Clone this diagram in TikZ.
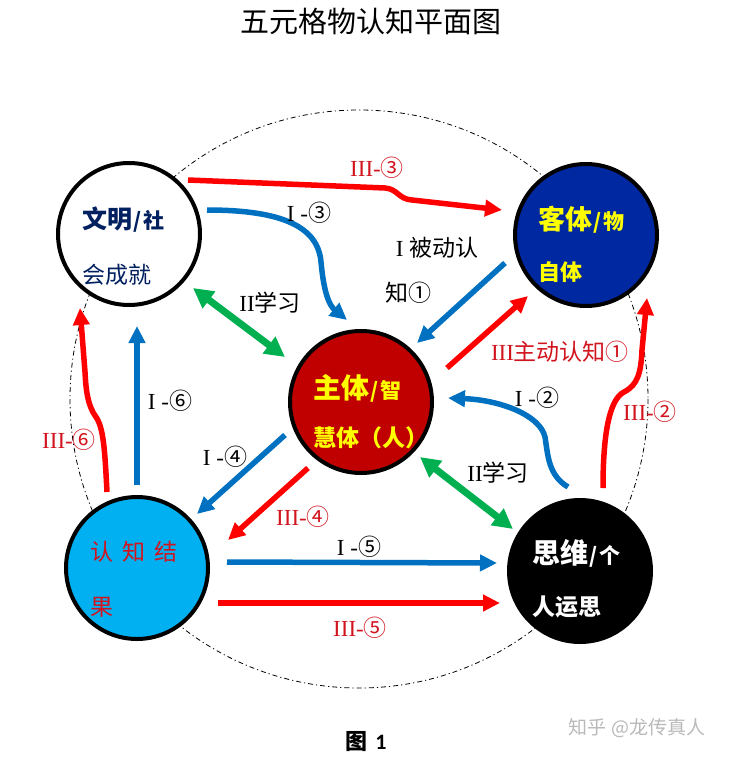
\documentclass[tikz,border=0pt]{standalone}
\usepackage{fontspec}
\setmainfont{Liberation Serif}
\newfontfamily\cjk{Noto Sans CJK SC}
\newfontfamily\carl{Carlito}
\usetikzlibrary{arrows.meta}
\definecolor{myred}{RGB}{255,0,0}
\definecolor{myblue}{RGB}{0,112,192}
\definecolor{mygreen}{RGB}{0,176,80}
\definecolor{navy}{RGB}{0,32,96}
\definecolor{kblue}{RGB}{0,40,160}
\definecolor{zred}{RGB}{192,0,0}
\definecolor{lblue}{RGB}{0,176,240}
\definecolor{yel}{RGB}{255,255,0}
\definecolor{txtred}{RGB}{210,20,30}
\definecolor{wmgray}{RGB}{185,185,185}
\newcommand\fsz[1]{\fontsize{#1pt}{#1pt}\selectfont}
\newcommand\cn[1]{{\cjk #1}}
\newcommand\slsep{\kern1.5pt/\kern1.5pt}
\begin{document}
\begin{tikzpicture}[x=1pt,y=-1pt,
  circ/.style={circle,draw=black,line width=4pt,minimum size=142pt,inner sep=0pt},
  ctext/.style={anchor=west,inner sep=0pt},
  arr/.style={line width=5.5pt,-{Triangle[length=17pt,width=16pt]}},
  rarr/.style={arr,draw=myred},
  barr/.style={arr,draw=myblue},
  garr/.style={line width=7pt,draw=mygreen,{Triangle[length=20pt,width=20pt]}-{Triangle[length=20pt,width=20pt]}},
  lbl/.style={inner sep=0pt,font=\fsz{23}},
  rlbl/.style={lbl,text=txtred},
  bound/.style={draw=black,line width=0.8pt,dash pattern=on 5pt off 3pt on 1.2pt off 3pt}
  ]
\useasboundingbox (0,0) rectangle (735,760);

% title
\node[inner sep=0pt,font=\cjk\fsz{29}] (title) at (371,21) {五元格物认知平面图};

% outer dash-dot circle
\draw[bound] (359,399) circle[radius=289];

% five circles
\node[circ,fill=white] (wm) at (129,234) {};
\node[circ,fill=kblue] (kt) at (586,235) {};
\node[circ,fill=zred] (zt) at (361,402) {};
\node[circ,fill=lblue] (res) at (137,568) {};
\node[circ,fill=black] (sw) at (580,571) {};

% circle texts
\node[ctext,text=navy] (wmA) at ([shift={(-47,-14)}]wm.center) {\cjk\bfseries\fsz{25}文明\fsz{21}\slsep 社};
\node[ctext,text=navy] (wmB) at ([shift={(-47,41)}]wm.center) {\cjk\fsz{23}会成就};
\node[ctext,text=yel] (ktA) at ([shift={(-48,-15)}]kt.center) {\cjk\bfseries\fsz{27}客体\fsz{21}\slsep 物};
\node[ctext,text=yel] (ktB) at ([shift={(-48,37)}]kt.center) {\cjk\bfseries\fsz{22}自体};
\node[ctext,text=yel] (ztA) at ([shift={(-48,-14)}]zt.center) {\cjk\bfseries\fsz{28}主体\fsz{21}\slsep 智};
\node[ctext,text=yel] (ztB) at ([shift={(-48,36)}]zt.center) {\cjk\bfseries\fsz{23}慧体（人）};
\node[ctext,text=txtred] (resA) at ([shift={(-47,-16)}]res.center) {\cjk\fsz{23}认\hspace{9pt}知\hspace{9pt}结};
\node[ctext,text=txtred] (resB) at ([shift={(-47,39)}]res.center) {\cjk\fsz{23}果};
\node[ctext,text=white] (swA) at ([shift={(-48,-18)}]sw.center) {\cjk\bfseries\fsz{28}思维\fsz{21}\slsep 个};
\node[ctext,text=white] (swB) at ([shift={(-48,36)}]sw.center) {\cjk\bfseries\fsz{23}人运思};

% arrows
% III-3
\draw[rarr] ([shift={(59,-54)}]wm.center) -- (385,188) .. controls (398,189) and (398,199) .. (412,200) -- ([shift={(-84,-25)}]kt.center);
% I-3
\draw[barr] ([shift={(78,-24)}]wm.center) .. controls (285,210) and (318,228) .. (321,262) .. controls (324,295) and (330,306) .. ([shift={(-14,-82)}]zt.center);
% I passive 1
\draw[barr] ([shift={(-81,28)}]kt.center) -- ([shift={(56,-59)}]zt.center);
% III active 1
\draw[rarr] ([shift={(86,-34)}]zt.center) -- ([shift={(-58,61)}]kt.center);
% II upper
\draw[garr] ([shift={(64,54)}]wm.center) -- ([shift={(-76,-45)}]zt.center);
% I-2
\draw[barr] ([shift={(-12,-84)}]sw.center) .. controls (548,475) and (548,455) .. (545,437) .. controls (540,415) and (500,400) .. ([shift={(87,-4)}]zt.center);
% III-2
\draw[rarr] ([shift={(23,-83)}]sw.center) .. controls (603,440) and (608,400) .. (624,392) .. controls (638,385) and (641,372) .. (642,350) -- ([shift={(61,63)}]kt.center);
% II lower
\draw[garr] ([shift={(59,55)}]zt.center) -- ([shift={(-67,-42)}]sw.center);
% I-4
\draw[barr] ([shift={(-76,33)}]zt.center) -- ([shift={(60,-54)}]res.center);
% III-4
\draw[rarr] ([shift={(-53,66)}]zt.center) -- ([shift={(91,-28)}]res.center);
% I-6
\draw[barr] ([shift={(0,-83)}]res.center) -- ([shift={(8,92)}]wm.center);
% III-6
\draw[rarr] ([shift={(-30,-76)}]res.center) .. controls (105,455) and (104,428) .. (96,417) .. controls (88,406) and (86,392) .. (85,372) -- ([shift={(-49,74)}]wm.center);
% I-5
\draw[barr] ([shift={(90,-6)}]res.center) -- ([shift={(-83,-8)}]sw.center);
% III-5
\draw[rarr] ([shift={(81,35)}]res.center) -- ([shift={(-80,32)}]sw.center);

% labels
\node[rlbl] (l3r) at (377,168) {III-\cn{③}};
\node[lbl] (l3b) at (309,213) {I -\cn{③}};
\node[lbl] (lp1) at (437,248) {I \cn{被动认}};
\node[lbl] (lp2) at (408,293) {\cn{知①}};
\node[lbl] (lg1) at (270,303) {II\cn{学习}};
\node[rlbl] (la1) at (560,352) {III\cn{主动认知①}};
\node[lbl] (l2b) at (537,398) {I -\cn{②}};
\node[rlbl] (l2r) at (650,412) {III-\cn{②}};
\node[lbl] (lg2) at (498,473) {II\cn{学习}};
\node[lbl] (l6b) at (170,401) {I -\cn{⑥}};
\node[rlbl] (l6r) at (69,440) {III-\cn{⑥}};
\node[lbl] (l4b) at (225,457) {I -\cn{④}};
\node[rlbl] (l4r) at (303,517) {III-\cn{④}};
\node[lbl] (l5b) at (359,547) {I -\cn{⑤}};
\node[rlbl] (l5r) at (360,628) {III-\cn{⑤}};

% caption and watermark
\node[inner sep=0pt] (fig) at (366,742) {{\cjk\bfseries\fsz{22}图}\hspace{8pt}{\carl\bfseries\fsz{22}1}};
\node[inner sep=0pt,text=wmgray] (wmk) at (637,728) {\cjk\fsz{19}知乎 @龙传真人};
\end{tikzpicture}
\end{document}
